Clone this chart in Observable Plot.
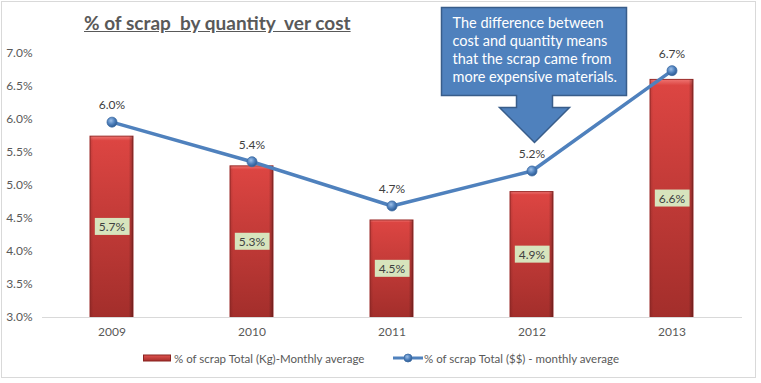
<!DOCTYPE html>
<html><head><meta charset="utf-8">
<script src="https://cdn.jsdelivr.net/npm/d3@7"></script>
<script src="https://cdn.jsdelivr.net/npm/@observablehq/plot@0.6"></script>
<style>
body{margin:0;background:#fff;font-family:Lato,"Open Sans",sans-serif;}
#wrap{position:relative;width:761px;height:383px;overflow:hidden;background:#fff;}
#frame{position:absolute;left:1px;top:1px;width:755px;height:377px;border:1px solid #d9d9d9;box-sizing:border-box;pointer-events:none;}
#title{position:absolute;left:84px;top:11px;font-size:19px;font-weight:bold;color:#595959;text-decoration:underline;white-space:pre;}
.leg{position:absolute;top:350px;font-size:11.5px;color:#595959;white-space:nowrap;display:flex;align-items:center;height:16px;}
</style></head><body>
<div id="wrap">
<div id="chart"></div>
<div id="title"></div>
<div id="legKg" class="leg" style="left:143px"></div>
<div id="legCost" class="leg" style="left:393px"></div>
<div id="frame"></div>
</div>
<script>
const years = ["2009", "2010", "2011", "2012", "2013"];
const kgPct = [5.74, 5.29, 4.47, 4.90, 6.60];
const costPct = [5.96, 5.36, 4.69, 5.22, 6.74];
const yTicks = [3.0, 3.5, 4.0, 4.5, 5.0, 5.5, 6.0, 6.5, 7.0];
const titleText = "% of scrap  by quantity  ver cost";
const kgLabel = "% of scrap Total (Kg)-Monthly average";
const costLabel = "% of scrap Total ($$) - monthly average";
const calloutLines = ["The difference between", "cost and quantity means", "that the scrap came from", "more expensive materials."];
const calloutYear = "2012";

const data = years.map((year, i) => ({year, kg: kgPct[i], cost: costPct[i]}));
const fmt = v => v.toFixed(1) + "%";

const plot = Plot.plot({
  width: 761, height: 383,
  marginTop: 53, marginBottom: 66, marginLeft: 42, marginRight: 19,
  style: {fontFamily: "Lato, sans-serif", fontSize: "12px", color: "#595959", background: "transparent"},
  x: {type: "band", domain: years, paddingInner: 0.69, paddingOuter: 0.345, label: null, tickSize: 0, tickPadding: 10},
  y: {domain: [3, 7], ticks: yTicks, tickFormat: d => d.toFixed(1) + "%", label: null, tickSize: 0, tickPadding: 10},
  marks: [
    Plot.barY(data, {x: "year", y1: 3, y2: "kg", fill: "url(#barGrad)", stroke: "#9b2b28", strokeWidth: 1}),
    Plot.barY(data, {x: "year", y1: 3, y2: "kg", fill: "url(#edgeGrad)"}),
    Plot.ruleY([3], {stroke: "#d9d9d9", strokeWidth: 1}),
    Plot.line(data, {x: "year", y: "cost", stroke: "#4f81bd", strokeWidth: 3.5}),
    Plot.dot(data, {x: "year", y: "cost", r: 5, fill: "url(#dotGrad)", stroke: "#3d6ca3", strokeWidth: 0.8}),
    Plot.text(data, {x: "year", y: "cost", text: d => fmt(d.cost), dy: -17, fill: "#404040", fontSize: 12}),
    Plot.text(data, {x: "year", y: d => (3 + d.kg) / 2, text: d => fmt(d.kg), fill: "#404040", fontSize: 12})
  ]
});
document.getElementById("chart").appendChild(plot);
document.getElementById("title").textContent = titleText;

const NS = "http://www.w3.org/2000/svg";
const svg = d3.select(plot);
const defs = svg.insert("defs", ":first-child");
const bg = defs.append("linearGradient").attr("id", "barGrad").attr("x1", 0).attr("y1", 0).attr("x2", 0).attr("y2", 1);
bg.append("stop").attr("offset", "0%").attr("stop-color", "#ee7471");
bg.append("stop").attr("offset", "2.5%").attr("stop-color", "#dc4542");
bg.append("stop").attr("offset", "100%").attr("stop-color", "#a32e2b");
const eg = defs.append("linearGradient").attr("id", "edgeGrad").attr("x1", 0).attr("y1", 0).attr("x2", 1).attr("y2", 0);
eg.append("stop").attr("offset", "0%").attr("stop-color", "#000").attr("stop-opacity", 0.12);
eg.append("stop").attr("offset", "8%").attr("stop-color", "#000").attr("stop-opacity", 0);
eg.append("stop").attr("offset", "90%").attr("stop-color", "#000").attr("stop-opacity", 0);
eg.append("stop").attr("offset", "100%").attr("stop-color", "#000").attr("stop-opacity", 0.3);
const dg = defs.append("radialGradient").attr("id", "dotGrad").attr("cx", "40%").attr("cy", "35%").attr("r", "65%");
dg.append("stop").attr("offset", "0%").attr("stop-color", "#9dbfe8");
dg.append("stop").attr("offset", "55%").attr("stop-color", "#4f81bd");
dg.append("stop").attr("offset", "100%").attr("stop-color", "#2d5a91");

// label boxes behind bar value labels (last text mark)
const textGroups = plot.querySelectorAll('g[aria-label="text"]');
const labelGroup = textGroups[textGroups.length - 1];
if (labelGroup) {
  labelGroup.querySelectorAll("text").forEach(function(t) {
    const b = t.getBBox();
    const r = document.createElementNS(NS, "rect");
    r.setAttribute("x", b.x - 4); r.setAttribute("y", b.y - 1);
    r.setAttribute("width", b.width + 8); r.setAttribute("height", b.height + 2);
    r.setAttribute("fill", "#d7e4bd");
    const tr = t.getAttribute("transform");
    if (tr) r.setAttribute("transform", tr);
    t.parentNode.insertBefore(r, t);
  });
}

// callout arrow anchored on the 2012 point
const xs = plot.scale("x"), ys = plot.scale("y");
const bw = xs.bandwidth || 0;
const ci = years.indexOf(calloutYear);
const tipX = xs.apply(calloutYear) + bw / 2 + 3;
const tipY = ys.apply(costPct[ci]) - 28;
const P = (dx, dy) => [tipX + dx, tipY + dy];
const pts = [P(-93, -135), P(92, -135), P(92, -47), P(18, -47), P(18, -35), P(35, -35), P(0, 0), P(-35, -35), P(-18, -35), P(-18, -47), P(-93, -47)];
const cg = svg.append("g");
cg.append("path").attr("d", "M" + pts.map(p => p.join(",")).join("L") + "Z")
  .attr("fill", "#4f81bd").attr("stroke", "#385d8a").attr("stroke-width", 1.5);
calloutLines.forEach((s, i) => {
  cg.append("text").attr("x", tipX - 82).attr("y", tipY - 120 + i * 18)
    .attr("dy", "0.35em").attr("text-anchor", "start").attr("fill", "#fff")
    .attr("font-size", 14.5).attr("font-family", "Lato, sans-serif").text(s);
});

// legend
const lk = document.getElementById("legKg");
lk.innerHTML = '<svg width="28" height="10" style="margin-right:3px"><rect x="0.5" y="2" width="27" height="6" fill="url(#barGrad2)" stroke="#8a2421"/><defs><linearGradient id="barGrad2" x1="0" y1="0" x2="0" y2="1"><stop offset="0" stop-color="#e05350"/><stop offset="1" stop-color="#a52c29"/></linearGradient></defs></svg>';
lk.appendChild(document.createTextNode(kgLabel));
const lc = document.getElementById("legCost");
lc.innerHTML = '<svg width="30" height="10" style="margin-right:1px"><line x1="0" x2="30" y1="5" y2="5" stroke="#4f81bd" stroke-width="3"/><circle cx="15" cy="5" r="4" fill="url(#dotGrad)" stroke="#3d6ca3" stroke-width="0.8"/></svg>';
lc.appendChild(document.createTextNode(costLabel));
</script>
</body></html>
